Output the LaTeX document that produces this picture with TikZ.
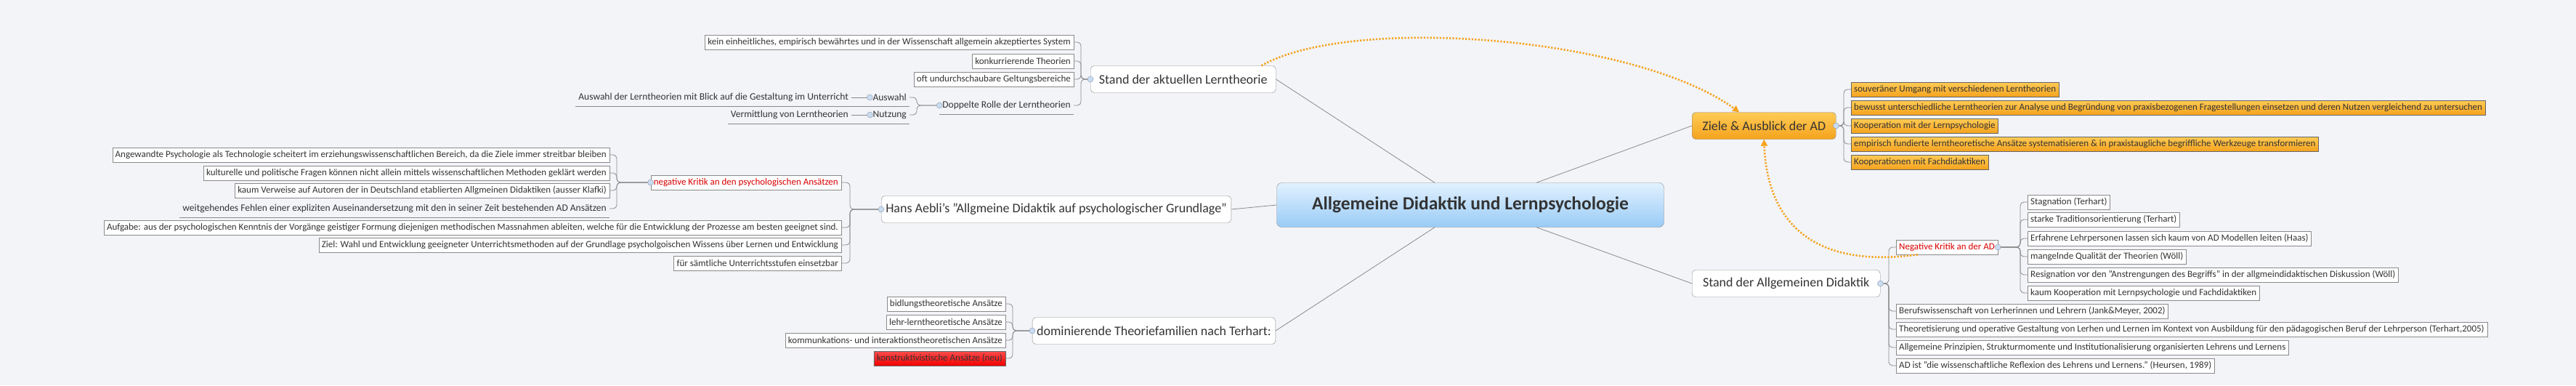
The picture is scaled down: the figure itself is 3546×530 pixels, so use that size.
\documentclass[tikz,border=0pt]{standalone}
\usepackage{fontspec}
\setmainfont{Carlito}
\usetikzlibrary{arrows.meta}
\definecolor{bg}{HTML}{F3F4F8}
\definecolor{edge}{HTML}{8A8A8A}
\definecolor{ink}{HTML}{333333}
\definecolor{orangetop}{HTML}{FFCB55}
\definecolor{orangebot}{HTML}{F5A31E}
\definecolor{bluetop}{HTML}{E2F1FF}
\definecolor{bluebot}{HTML}{98CBF6}
\definecolor{foldblue}{HTML}{C9DCF2}

\tikzset{
  every node/.style={text=ink},
  leaf/.style={draw=edge,fill=white,inner xsep=4pt,inner ysep=0pt,minimum height=20pt,font=\fontsize{13}{15}\selectfont},
  orangeleaf/.style={leaf,draw=black!60,top color=orangetop,bottom color=orangebot},
  redleaf/.style={leaf,draw=black!60,top color=red!70,bottom color=red!95!black},
  plain/.style={inner xsep=4pt,inner ysep=0pt,minimum height=24pt,font=\fontsize{13.5}{15}\selectfont},
  topic/.style={draw=edge,fill=white,rounded corners=5pt,inner xsep=6pt,minimum height=37pt,font=\fontsize{18}{21}\selectfont},
  redtopic/.style={leaf,text=red!85!black},
  root/.style={draw=edge,rounded corners=7pt,top color=bluetop,bottom color=bluebot,minimum width=533pt,minimum height=61pt,font=\fontsize{25.5}{30}\selectfont\bfseries},
  branch/.style={draw=edge,line width=0.8pt,rounded corners=5pt},
  spoke/.style={draw=edge,line width=0.8pt},
  relation/.style={draw=orangebot,line width=2.6pt,dash pattern=on 2.2pt off 2.2pt,-{Triangle[length=9pt,width=9pt]}},
  fold/.style={circle,draw=foldblue!70!black,fill=foldblue,inner sep=0pt,minimum size=8pt}
}

\begin{document}
\begin{tikzpicture}[x=1pt,y=-1pt]
\fill[bg] (0,0) rectangle (3546,530);
\useasboundingbox (0,0) rectangle (3546,530);

% centre
\node[root] (root) at (2024,282) {Allgemeine Didaktik und Lernpsychologie};

% Stand der aktuellen Lerntheorie
\node[topic,anchor=west,minimum width=255pt] (lt) at (1501,109) {Stand der aktuellen Lerntheorie};
\node[leaf,anchor=east] (lt1) at (1478,58) {kein einheitliches, empirisch bewährtes und in der Wissenschaft allgemein akzeptiertes System};
\node[leaf,anchor=east] (lt2) at (1478,84) {konkurrierende Theorien};
\node[leaf,anchor=east] (lt3) at (1478,109) {oft undurchschaubare Geltungsbereiche};
\node[plain,anchor=east] (lt4) at (1478,145) {Doppelte Rolle der Lerntheorien};
\node[plain,anchor=east] (rolA) at (1252,134) {Auswahl};
\node[plain,anchor=east] (rolA1) at (1172,134) {Auswahl der Lerntheorien mit Blick auf die Gestaltung im Unterricht};
\node[plain,anchor=east] (rolB) at (1252,158) {Nutzung};
\node[plain,anchor=east] (rolB1) at (1172,158) {Vermittlung von Lerntheorien};

% Hans Aebli
\node[topic,anchor=east] (ha) at (1695,288) {Hans Aebli's "Allgmeine Didaktik auf psychologischer Grundlage"};
\node[redtopic,anchor=east] (nk) at (1158,251) {negative Kritik an den psychologischen Ansätzen};
\node[leaf,anchor=east] (nk1) at (839,213) {Angewandte Psychologie als Technologie scheitert im erziehungswissenschaftlichen Bereich, da die Ziele immer streitbar bleiben};
\node[leaf,anchor=east] (nk2) at (839,238) {kulturelle und politische Fragen können nicht allein mittels wissenschaftlichen Methoden geklärt werden};
\node[leaf,anchor=east] (nk3) at (839,262) {kaum Verweise auf Autoren der in Deutschland etablierten Allgmeinen Didaktiken (ausser Klafki)};
\node[plain,anchor=east] (nk4) at (839,287) {weitgehendes Fehlen einer expliziten Auseinandersetzung mit den in seiner Zeit bestehenden AD Ansätzen};
\node[leaf,anchor=east] (ha2) at (1158,313) {Aufgabe: aus der psychologischen Kenntnis der Vorgänge geistiger Formung diejenigen methodischen Massnahmen ableiten, welche für die Entwicklung der Prozesse am besten geeignet sind.};
\node[leaf,anchor=east] (ha3) at (1158,337) {Ziel: Wahl und Entwicklung geeigneter Unterrichtsmethoden auf der Grundlage psycholgoischen Wissens über Lernen und Entwicklung};
\node[leaf,anchor=east] (ha4) at (1158,362) {für sämtliche Unterrichtsstufen einsetzbar};

% dominierende Theoriefamilien
\node[topic,anchor=east] (dom) at (1756,455) {dominierende Theoriefamilien nach Terhart:};
\node[leaf,anchor=east] (dom1) at (1384,418) {bidlungstheoretische Ansätze};
\node[leaf,anchor=east] (dom2) at (1384,443) {lehr-lerntheoretische Ansätze};
\node[leaf,anchor=east] (dom3) at (1384,468) {kommunkations- und interaktionstheoretischen Ansätze};
\node[redleaf,anchor=east] (dom4) at (1384,493) {konstruktivistische Ansätze (neu)};

% Ziele & Ausblick
\node[topic,anchor=west,rounded corners=5pt,draw=black!50,top color=orangetop,bottom color=orangebot,minimum width=198pt] (zi) at (2329,173) {Ziele \& Ausblick der AD};
\node[orangeleaf,anchor=west] (zi1) at (2548,123) {souveräner Umgang mit verschiedenen Lerntheorien};
\node[orangeleaf,anchor=west] (zi2) at (2548,148) {bewusst unterschiedliche Lerntheorien zur Analyse und Begründung von praxisbezogenen Fragestellungen einsetzen und deren Nutzen vergleichend zu untersuchen};
\node[orangeleaf,anchor=west] (zi3) at (2548,173) {Kooperation mit der Lernpsychologie};
\node[orangeleaf,anchor=west] (zi4) at (2548,198) {empirisch fundierte lerntheoretische Ansätze systematisieren \& in praxistaugliche begriffliche Werkzeuge transformieren};
\node[orangeleaf,anchor=west] (zi5) at (2548,223) {Kooperationen mit Fachdidaktiken};

% Stand der Allgemeinen Didaktik
\node[topic,anchor=west,minimum width=259pt] (sa) at (2329,390) {Stand der Allgemeinen Didaktik};
\node[redtopic,anchor=west] (nka) at (2610,340) {Negative Kritik an der AD};
\node[leaf,anchor=west] (nka1) at (2791,278) {Stagnation (Terhart)};
\node[leaf,anchor=west] (nka2) at (2791,302) {starke Traditionsorientierung (Terhart)};
\node[leaf,anchor=west] (nka3) at (2791,328) {Erfahrene Lehrpersonen lassen sich kaum von AD Modellen leiten (Haas)};
\node[leaf,anchor=west] (nka4) at (2791,353) {mangelnde Qualität der Theorien (Wöll)};
\node[leaf,anchor=west] (nka5) at (2791,378) {Resignation vor den "Anstrengungen des Begriffs" in der allgmeindidaktischen Diskussion (Wöll)};
\node[leaf,anchor=west] (nka6) at (2791,403) {kaum Kooperation mit Lernpsychologie und Fachdidaktiken};
\node[leaf,anchor=west] (sa2) at (2610,428) {Berufswissenschaft von Lerherinnen und Lehrern (Jank\&Meyer, 2002)};
\node[leaf,anchor=west] (sa3) at (2610,453) {Theoretisierung und operative Gestaltung von Lerhen und Lernen im Kontext von Ausbildung für den pädagogischen Beruf der Lehrperson (Terhart,2005)};
\node[leaf,anchor=west] (sa4) at (2610,478) {Allgemeine Prinzipien, Strukturmomente und Institutionalisierung organisierten Lehrens und Lernens};
\node[leaf,anchor=west] (sa5) at (2610,503) {AD ist "die wissenschaftliche Reflexion des Lehrens und Lernens." (Heursen, 1989)};

% spokes from the centre
\draw[spoke] ([xshift=-49pt]root.north) -- (lt.east);
\draw[spoke] (root.west) -- (ha.east);
\draw[spoke] ([xshift=-49pt]root.south) -- (dom.east);
\draw[spoke] ([xshift=91pt]root.north) -- (zi.west);
\draw[spoke] ([xshift=91pt]root.south) -- (sa.west);

% branches, left side
\foreach \c in {lt1,lt2,lt3,lt4}
  \draw[branch] (\c.east) -- ++(10,0) |- (lt.west);
\draw[branch] (rolA.east) -- ++(10,0) |- (lt4.west);
\draw[branch] (rolB.east) -- ++(10,0) |- (lt4.west);
\draw[branch] (rolA1.east) -- (rolA.west);
\draw[branch] (rolB1.east) -- (rolB.west);
\draw[branch] (lt4.south west) -- (lt4.south east);
\draw[branch] (rolA1.south west) -- (rolA.south east);
\draw[branch] (rolB1.south west) -- (rolB.south east);
\foreach \c in {nk,ha2,ha3,ha4}
  \draw[branch] (\c.east) -- ++(12,0) |- (ha.west);
\foreach \c in {nk1,nk2,nk3,nk4}
  \draw[branch] (\c.east) -- ++(10,0) |- (nk.west);
\draw[branch] (nk4.south west) -- (nk4.south east);
\foreach \c in {dom1,dom2,dom3,dom4}
  \draw[branch] (\c.east) -- ++(10,0) |- (dom.west);

% branches, right side
\foreach \c in {zi1,zi2,zi3,zi4,zi5}
  \draw[branch] (\c.west) -- ++(-10,0) |- (zi.east);
\foreach \c in {nka,sa2,sa3,sa4,sa5}
  \draw[branch] (\c.west) -- ++(-10,0) |- (sa.east);
\foreach \c in {nka1,nka2,nka3,nka4,nka5,nka6}
  \draw[branch] (\c.west) -- ++(-10,0) |- (nka.east);

% fold markers
\foreach \n/\a in {lt/west,lt4/west,rolA/west,rolB/west,ha/west,nk/west,dom/west,zi/east,sa/east,nka/east}
  \node[fold] (f\n) at (\n.\a) {};

% relations
\draw[relation] ([xshift=-20pt]lt.north east) .. controls (1860,20) and (2250,50) .. ([xshift=-34pt]zi.north);
\draw[relation] ([xshift=30pt]nka.south west) .. controls (2480,372) and (2432,290) .. (zi.south);
\end{tikzpicture}
\end{document}
